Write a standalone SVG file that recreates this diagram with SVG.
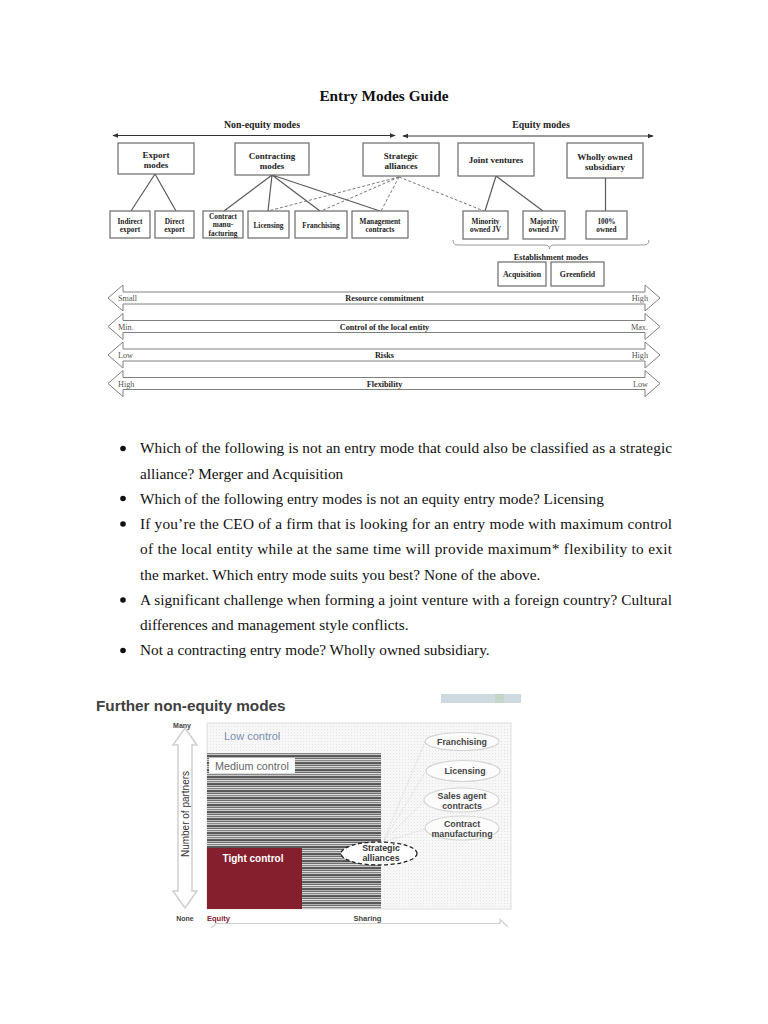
<svg xmlns="http://www.w3.org/2000/svg" width="768" height="1024" viewBox="0 0 768 1024">
<style>
.box{fill:#fff;stroke:#6a6a6a;stroke-width:1.2}
.t{font-family:"Liberation Serif","Times New Roman",serif;font-weight:bold;fill:#222;text-anchor:middle}
.b8{font-size:9px}
.b7{font-size:7.3px}
.ln{stroke:#5a5a5a;stroke-width:1.2;fill:none}
.ds{stroke:#7a7a7a;stroke-width:1;stroke-dasharray:3 2;fill:none}
.bar{fill:#fff;stroke:#808080;stroke-width:1}
.bl{font-family:"Liberation Serif","Times New Roman",serif;font-size:8.2px;fill:#555}
.body{font-family:"Liberation Serif","Times New Roman",serif;font-size:15.3px;fill:#111}
.s{font-family:"Liberation Sans",Arial,sans-serif}
.el{fill:#fcfcfc;stroke:#d4d4d4;stroke-width:1.2}
.et{font-family:"Liberation Sans",Arial,sans-serif;font-weight:bold;font-size:8.8px;fill:#444;text-anchor:middle}
.ax{fill:#fff;stroke:#cfcfcf;stroke-width:1.5}
</style>
<defs>
<marker id="ah" viewBox="0 0 8 8" refX="7" refY="4" markerWidth="6" markerHeight="6" orient="auto-start-reverse">
<path d="M0,1 L8,4 L0,7 Z" fill="#333"/>
</marker>
<pattern id="stripes" patternUnits="userSpaceOnUse" width="10" height="7">
<rect width="10" height="7" fill="#dcdcdc"/>
<rect y="0" width="10" height="1" fill="#555"/>
<rect y="1" width="10" height="1" fill="#b4b4b4"/>
<rect y="2" width="10" height="1" fill="#6e6e6e"/>
<rect y="4" width="10" height="1" fill="#888"/>
<rect y="5" width="10" height="1" fill="#c8c8c8"/>
<rect y="6" width="10" height="1" fill="#5e5e5e"/>
</pattern>
<pattern id="dots" patternUnits="userSpaceOnUse" width="3" height="3">
<rect width="3" height="3" fill="#f7f7f7"/>
<rect width="1" height="1" fill="#e4e4e4"/>
</pattern>
</defs>
<rect width="768" height="1024" fill="#fff"/>

<text x="384" y="101" class="t" style="font-size:15.3px;fill:#111">Entry Modes Guide</text>

<g id="headers">
<text x="262" y="128" class="t" style="font-size:9.8px">Non-equity modes</text>
<line x1="113" y1="135.5" x2="395" y2="135.5" stroke="#333" stroke-width="1" marker-start="url(#ah)" marker-end="url(#ah)"/>
<text x="541" y="128" class="t" style="font-size:9.8px">Equity modes</text>
<line x1="403" y1="136" x2="653" y2="136" stroke="#333" stroke-width="1" marker-start="url(#ah)" marker-end="url(#ah)"/>
</g>

<g id="connectors">
<path class="ln" d="M155,174 L131,211 M155,174 L176,211"/>
<path class="ln" d="M272,175 L224,211 M272,175 L268,211 M272,175 L320,211 M272,175 L380,211"/>
<path class="ds" d="M399,177 L268,211 M399,177 L321,211 M399,177 L381,211 M399,177 L484,211"/>
<path class="ln" d="M496,176 L485,211 M496,176 L543,211"/>
<path class="ln" d="M605.5,178 L605.5,211"/>
<path d="M453,240 Q453,245 458,245 L545,245 Q549.5,245 549.5,249 Q549.5,245 554,245 L644,245 Q649,245 649,240" fill="none" stroke="#9a9a9a" stroke-width="1"/>
</g>

<g id="export-modes"><rect class="box" x="118" y="143" width="76" height="31"/><text class="t b8" x="156" y="157.5">Export</text><text class="t b8" x="156" y="167.5">modes</text></g>
<g id="contracting-modes"><rect class="box" x="235" y="143" width="74" height="32"/><text class="t b8" x="272" y="158.5">Contracting</text><text class="t b8" x="272" y="168.5">modes</text></g>
<g id="strategic-alliances"><rect class="box" x="363" y="143" width="76" height="33"/><text class="t b8" x="401" y="159">Strategic</text><text class="t b8" x="401" y="169">alliances</text></g>
<g id="joint-ventures"><rect class="box" x="458" y="143" width="76" height="33"/><text class="t b8" x="496" y="163">Joint ventures</text></g>
<g id="wholly-owned"><rect class="box" x="567" y="143" width="76" height="35"/><text class="t b8" x="605" y="159.5">Wholly owned</text><text class="t b8" x="605" y="169.5">subsidiary</text></g>

<g id="indirect-export"><rect class="box" x="110" y="211" width="40" height="27"/><text class="t b7" x="130" y="223.5">Indirect</text><text class="t b7" x="130" y="231.5">export</text></g>
<g id="direct-export"><rect class="box" x="155" y="211" width="39" height="27"/><text class="t b7" x="174.5" y="223.5">Direct</text><text class="t b7" x="174.5" y="231.5">export</text></g>
<g id="contract-manufacturing"><rect class="box" x="203" y="211" width="40" height="27"/><text class="t b7" x="223" y="218.5">Contract</text><text class="t b7" x="223" y="227">manu-</text><text class="t b7" x="223" y="235.5">facturing</text></g>
<g id="licensing"><rect class="box" x="248" y="211" width="41" height="27"/><text class="t b7" x="268.5" y="227.5">Licensing</text></g>
<g id="franchising"><rect class="box" x="295" y="211" width="52" height="27"/><text class="t b7" x="321" y="227.5">Franchising</text></g>
<g id="management-contracts"><rect class="box" x="352" y="211" width="56" height="27"/><text class="t b7" x="380" y="223.5">Management</text><text class="t b7" x="380" y="231.5">contracts</text></g>
<g id="minority-jv"><rect class="box" x="463" y="211" width="45" height="28"/><text class="t b7" x="485.5" y="223.5">Minority</text><text class="t b7" x="485.5" y="231.5">owned JV</text></g>
<g id="majority-jv"><rect class="box" x="523" y="211" width="42" height="28"/><text class="t b7" x="544" y="223.5">Majority</text><text class="t b7" x="544" y="231.5">owned JV</text></g>
<g id="owned-100"><rect class="box" x="586" y="211" width="41" height="28"/><text class="t b7" x="606.5" y="223.5">100%</text><text class="t b7" x="606.5" y="231.5">owned</text></g>
<g id="establishment-modes"><text class="t" style="font-size:8.2px" x="551" y="259.5">Establishment modes</text></g>
<g id="acquisition"><rect class="box" x="498" y="262" width="48" height="24"/><text class="t" style="font-size:7.8px" x="522" y="277">Acquisition</text></g>
<g id="greenfield"><rect class="box" x="551" y="262" width="53" height="24"/><text class="t" style="font-size:7.8px" x="577.5" y="277">Greenfield</text></g>

<g id="bars">
<path class="bar" d="M108,298 L123,285 L123,292 L645,292 L645,285 L660,298 L645,311 L645,304 L123,304 L123,311 Z"/>
<text class="bl" x="118" y="301">Small</text><text class="t" style="font-size:8.2px" x="384.5" y="301">Resource commitment</text><text class="bl" x="648" y="301" text-anchor="end">High</text>
<path class="bar" d="M108,326.5 L123,313.5 L123,320.5 L645,320.5 L645,313.5 L660,326.5 L645,339.5 L645,332.5 L123,332.5 L123,339.5 Z"/>
<text class="bl" x="118" y="329.5">Min.</text><text class="t" style="font-size:8.2px" x="384.5" y="329.5">Control of the local entity</text><text class="bl" x="648" y="329.5" text-anchor="end">Max.</text>
<path class="bar" d="M108,355 L123,342 L123,349 L645,349 L645,342 L660,355 L645,368 L645,361 L123,361 L123,368 Z"/>
<text class="bl" x="118" y="358">Low</text><text class="t" style="font-size:8.2px" x="384.5" y="358">Risks</text><text class="bl" x="648" y="358" text-anchor="end">High</text>
<path class="bar" d="M108,383.5 L123,370.5 L123,377.5 L645,377.5 L645,370.5 L660,383.5 L645,396.5 L645,389.5 L123,389.5 L123,396.5 Z"/>
<text class="bl" x="118" y="386.5">High</text><text class="t" style="font-size:8.2px" x="384.5" y="386.5">Flexibility</text><text class="bl" x="648" y="386.5" text-anchor="end">Low</text>
</g>

<g id="questions">
<g fill="#111"><circle cx="123" cy="448.5" r="2.8"/><circle cx="123" cy="498.5" r="2.8"/><circle cx="123" cy="524" r="2.8"/><circle cx="123" cy="600" r="2.8"/><circle cx="123" cy="650.5" r="2.8"/></g>
<text class="body" x="140" y="453" textLength="532" lengthAdjust="spacing">Which of the following is not an entry mode that could also be classified as a strategic</text>
<text class="body" x="140" y="478.5">alliance? Merger and Acquisition</text>
<text class="body" x="140" y="503.5">Which of the following entry modes is not an equity entry mode? Licensing</text>
<text class="body" x="140" y="529" textLength="532" lengthAdjust="spacing">If you’re the CEO of a firm that is looking for an entry mode with maximum control</text>
<text class="body" x="140" y="554" textLength="532" lengthAdjust="spacing">of the local entity while at the same time will provide maximum* flexibility to exit</text>
<text class="body" x="140" y="579.5">the market. Which entry mode suits you best? None of the above.</text>
<text class="body" x="140" y="604.5" textLength="532" lengthAdjust="spacing">A significant challenge when forming a joint venture with a foreign country? Cultural</text>
<text class="body" x="140" y="630">differences and management style conflicts.</text>
<text class="body" x="140" y="655">Not a contracting entry mode? Wholly owned subsidiary.</text>
</g>

<g id="further-chart">
<text class="s" x="96" y="711" style="font-size:15.3px;font-weight:bold;fill:#404040">Further non-equity modes</text>
<rect x="441" y="694" width="80" height="9" fill="#cfd9e0"/>
<rect x="495" y="694" width="9" height="9" fill="#c4d6c8"/>
<rect x="207" y="723" width="304" height="186" fill="url(#dots)" stroke="#e0e0e0" stroke-width="1"/>
<g id="low-control"><text class="s" x="224" y="740" style="font-size:11px;fill:#7a90b2">Low control</text></g>
<g id="medium-control"><rect x="207" y="753" width="174" height="156" fill="url(#stripes)"/>
<rect x="209" y="758" width="86" height="15" fill="#fff"/>
<text class="s" x="215" y="769.5" style="font-size:10.8px;fill:#666">Medium control</text></g>
<g id="tight-control"><rect x="207" y="848" width="95" height="61" fill="#84202e"/>
<text class="s" x="222.5" y="862" style="font-size:10px;font-weight:bold;fill:#fff">Tight control</text></g>
<g id="axis-y"><path class="ax" d="M185,728 L197,745 L192,745 L192,891 L197,891 L185,908 L173,891 L178,891 L178,745 L173,745 Z"/>
<text class="s" transform="translate(188.5,814) rotate(-90)" text-anchor="middle" style="font-size:10px;fill:#333">Number of partners</text>
<text class="s" x="182" y="728" text-anchor="middle" style="font-size:7px;font-weight:bold;fill:#444">Many</text>
<text class="s" x="185" y="921" text-anchor="middle" style="font-size:7px;font-weight:bold;fill:#444">None</text></g>
<g id="axis-x"><path d="M211,928 L216,923.5 L500,923.5 L500,919.5 L508,927" fill="none" stroke="#d0d0d0" stroke-width="1.2"/>
<text class="s" x="207" y="920.5" style="font-size:7.5px;font-weight:bold;fill:#8a2030">Equity</text>
<text class="s" x="367.5" y="920.5" text-anchor="middle" style="font-size:7.5px;font-weight:bold;fill:#444">Sharing</text></g>
<g id="chart-connectors" stroke="#c8c8c8" stroke-width="0.8" stroke-dasharray="1 1.5" fill="none">
<path d="M383,842 L425,742 M383,842 L426,771 M383,842 L424,801 M383,842 L425,829"/>
</g>
<g id="e-franchising"><ellipse class="el" cx="462" cy="741.5" rx="37" ry="9"/><text class="et" x="462" y="744.5">Franchising</text></g>
<g id="e-licensing"><ellipse class="el" cx="463" cy="771" rx="37" ry="10.5"/><text class="et" x="465" y="774">Licensing</text></g>
<g id="e-sales"><ellipse class="el" cx="461.5" cy="800" rx="37.5" ry="12"/><text class="et" x="462" y="798.5">Sales agent</text><text class="et" x="462" y="808.5">contracts</text></g>
<g id="e-contract"><ellipse class="el" cx="462" cy="828" rx="37" ry="12"/><text class="et" x="462" y="826.5">Contract</text><text class="et" x="462" y="836.5">manufacturing</text></g>
<g id="e-strategic"><ellipse cx="379" cy="853.5" rx="38" ry="11.5" fill="#fff" stroke="#222" stroke-width="1.3" stroke-dasharray="4 2.5"/><text class="et" x="381" y="850.5" style="fill:#333">Strategic</text><text class="et" x="381" y="860.5" style="fill:#333">alliances</text></g>
</g>
</svg>
